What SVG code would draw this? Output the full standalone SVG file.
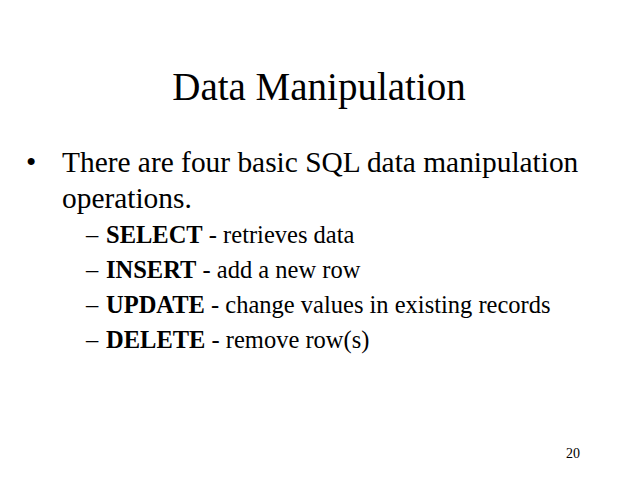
<svg xmlns="http://www.w3.org/2000/svg" width="638" height="478" viewBox="0 0 638 478">
<style>text{font-family:"Liberation Serif","Times New Roman",serif;fill:#000}.s{font-size:24.5px}.b{font-weight:bold}</style>
<rect width="638" height="478" fill="#fff"/>
<text x="319" y="100" font-size="39" text-anchor="middle">Data Manipulation</text>
<text x="26" y="172" font-size="29.4">•</text>
<text x="62" y="172" font-size="29.4">There are four basic SQL data manipulation</text>
<text x="62" y="208" font-size="29.4">operations.</text>
<g class="s">
<text x="86" y="243" class="s">–</text><text x="106" y="243" class="s"><tspan class="b">SELECT</tspan> - retrieves data</text>
<text x="86" y="278" class="s">–</text><text x="106" y="278" class="s"><tspan class="b">INSERT</tspan> - add a new row</text>
<text x="86" y="313" class="s">–</text><text x="106" y="313" class="s"><tspan class="b">UPDATE</tspan> - change values in existing records</text>
<text x="86" y="348" class="s">–</text><text x="106" y="348" class="s"><tspan class="b">DELETE</tspan> - remove row(s)</text>
</g>
<text x="566" y="458" font-size="14">20</text>
</svg>
